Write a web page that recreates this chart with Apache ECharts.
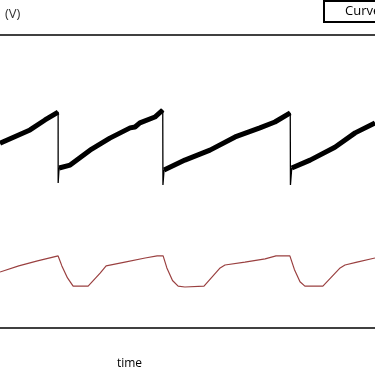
<!DOCTYPE html>
<html>
<head>
<meta charset="utf-8">
<script src="https://cdn.jsdelivr.net/npm/echarts@6/dist/echarts.min.js"></script>
<style>html,body{margin:0;padding:0;background:#fff}#c{width:375px;height:375px}</style>
</head>
<body>
<div id="c"></div>
<script>
// Black sawtooth curve: [time, volts]; listed drop indices are the reset points
var curveTime = [0, 0.8, 1.2, 1.55, 1.551, 1.575, 1.87, 2.4, 2.93, 3.47, 3.6, 3.73, 4.13, 4.34, 4.345, 4.375, 4.93, 5.6, 6.27, 6.93, 7.33, 7.74, 7.745, 7.78, 8.27, 8.93, 9.47, 10.0];
var curveVolt = [6.31, 6.76, 7.10, 7.37, 4.95, 5.46, 5.56, 6.07, 6.48, 6.83, 6.86, 7.00, 7.20, 7.44, 4.88, 5.39, 5.73, 6.07, 6.52, 6.83, 7.03, 7.34, 4.88, 5.46, 5.73, 6.17, 6.66, 7.0];
var dropIndex = [4, 14, 22];
// Red curve: [time, volts]
var redTime = [0, 0.5, 1.0, 1.55, 1.65, 1.8, 1.95, 2.35, 2.67, 2.83, 3.33, 3.87, 4.19, 4.35, 4.45, 4.6, 4.75, 4.93, 5.44, 5.87, 6.0, 6.53, 7.07, 7.36, 7.73, 7.85, 8.0, 8.13, 8.61, 9.07, 9.2, 9.52, 10.0];
var redVolt = [1.91, 2.12, 2.29, 2.46, 2.12, 1.71, 1.43, 1.43, 1.87, 2.12, 2.25, 2.39, 2.46, 2.46, 2.05, 1.62, 1.43, 1.40, 1.43, 2.05, 2.15, 2.25, 2.36, 2.46, 2.46, 2.00, 1.58, 1.43, 1.43, 2.05, 2.15, 2.25, 2.39];
var legendNames = ['Curve'];

function pairs(xs, ys){ return xs.map(function(x,i){ return [x, ys[i]]; }); }
function ramps(xs, ys, gaps){
  return xs.map(function(x,i){ return [x, gaps.indexOf(i) >= 0 ? null : ys[i]]; });
}

var chart = echarts.init(document.getElementById('c'));
chart.setOption({
  animation: false,
  backgroundColor: '#fff',
  textStyle: { fontFamily: 'Open Sans, DejaVu Sans, sans-serif' },
  grid: { left: 0, right: 0, top: 35, bottom: 47, outerBoundsMode: 'none', containLabel: false },
  legend: {
    data: [{ name: legendNames[0], icon: 'none' }],
    left: 324, top: 1,
    itemWidth: 0, itemHeight: 0, itemGap: 0,
    padding: [4, 40, 4, 16],
    borderColor: '#000', borderWidth: 2,
    textStyle: { color: '#000', fontSize: 13, fontFamily: 'Open Sans, sans-serif' }
  },
  xAxis: [{
    type: 'value', min: 0, max: 10,
    name: 'time', nameLocation: 'middle', nameGap: 30,
    nameTextStyle: { color: '#000', fontSize: 12, padding: [0, 116, 0, 0] },
    axisLine: { show: true, onZero: false, lineStyle: { color: '#000', width: 1.5 } },
    axisTick: { show: false }, axisLabel: { show: false }, splitLine: { show: false }
  }, {
    type: 'value', min: 0, max: 10, position: 'top',
    axisLine: { show: true, onZero: false, lineStyle: { color: '#000', width: 1.5 } },
    axisTick: { show: false }, axisLabel: { show: false }, splitLine: { show: false }
  }],
  yAxis: {
    type: 'value', min: 0, max: 10,
    name: '(V)', nameLocation: 'end', nameGap: 14,
    nameTextStyle: { color: '#333', fontSize: 13, align: 'left', padding: [0, 0, 0, 5] },
    axisLine: { show: false }, axisTick: { show: false }, axisLabel: { show: false }, splitLine: { show: false }
  },
  series: [{
    name: 'Curve', type: 'line', xAxisIndex: 0,
    data: pairs(curveTime, curveVolt),
    symbol: 'none', lineStyle: { color: '#000', width: 1.3 }, itemStyle: { color: '#000' }
  }, {
    name: 'CurveBand', type: 'line', xAxisIndex: 0,
    data: ramps(curveTime, curveVolt, dropIndex), connectNulls: false,
    symbol: 'none', lineStyle: { color: '#000', width: 5 }, itemStyle: { color: '#000' }
  }, {
    name: 'Red', type: 'line', xAxisIndex: 0,
    data: pairs(redTime, redVolt),
    symbol: 'none', lineStyle: { color: '#9a4040', width: 1.2 }, itemStyle: { color: '#9a4040' }
  }]
});
</script>
</body>
</html>
